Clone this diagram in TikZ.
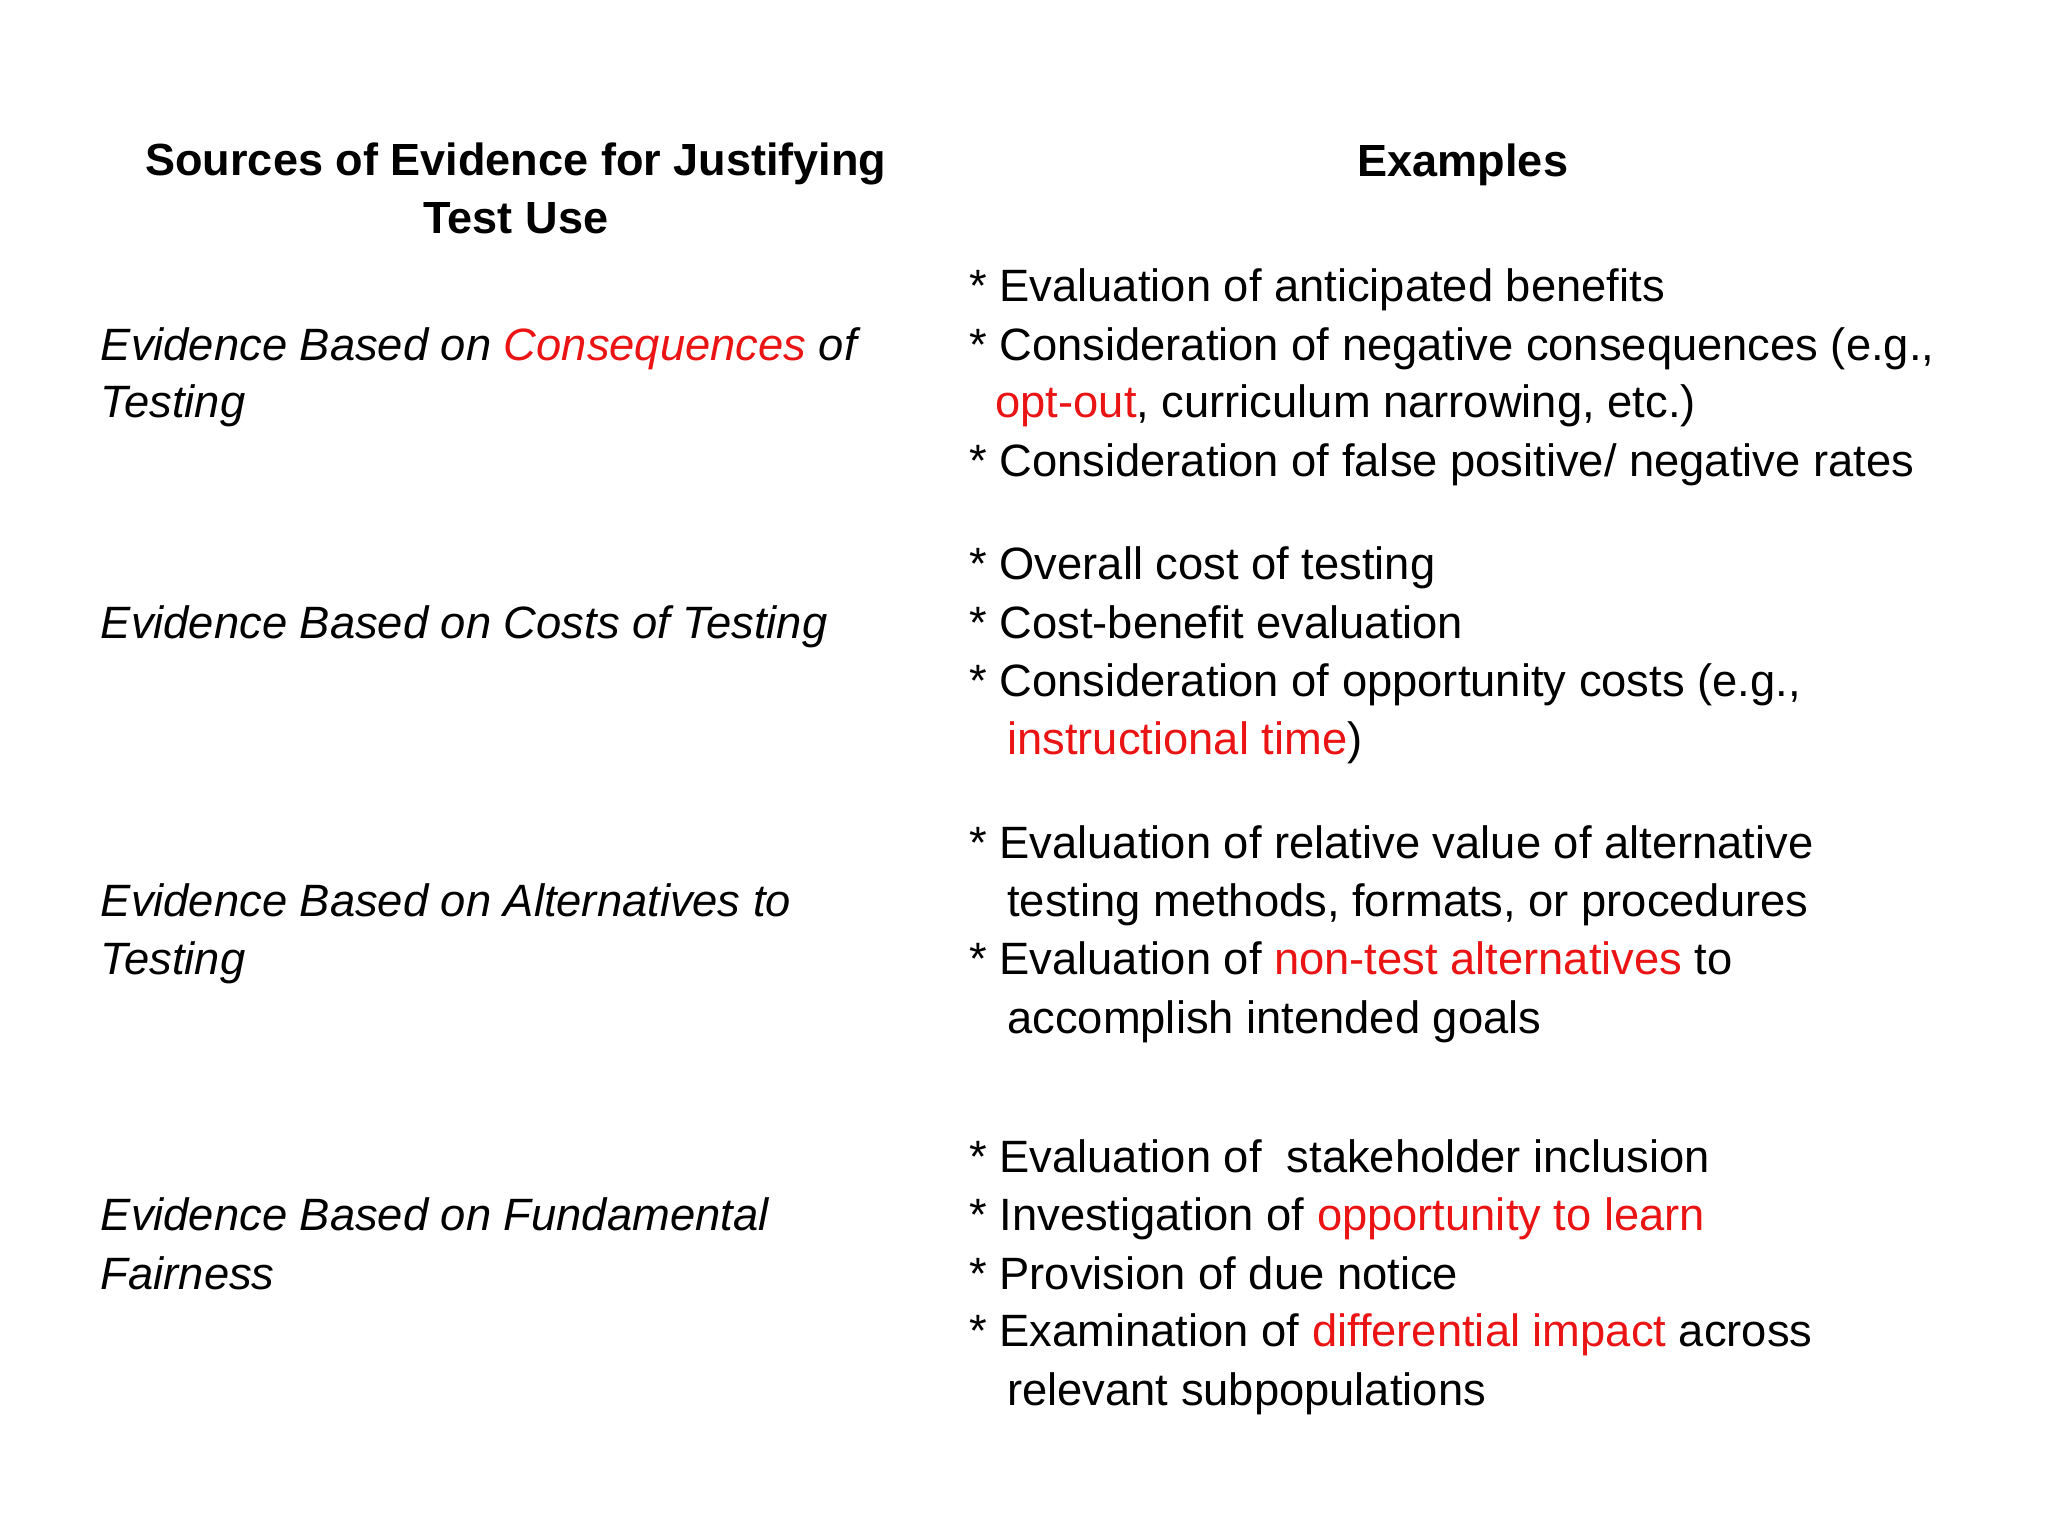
\documentclass[tikz,border=0pt]{standalone}
\usepackage{fontspec}
\setmainfont{Liberation Sans}
\definecolor{hl}{RGB}{235,20,20}
\begin{document}
\begin{tikzpicture}[x=1pt,y=-1pt,
  t/.style={anchor=base west,inner sep=0pt,font=\fontsize{34.7}{40}\selectfont},
  li/.style={t,font=\fontsize{34.7}{40}\selectfont\itshape},
  hd/.style={anchor=base,inner sep=0pt,align=center,font=\fontsize{34.5}{44.5}\selectfont\bfseries}]
\useasboundingbox (0,0) rectangle (1568,1176);
\node[hd] (h1) at (395,179) {Sources of Evidence for Justifying\\Test Use};
\node[hd] (h2) at (1120,135) {Examples};
% left
\node[li] (l1) at (77,276) {Evidence Based on \textcolor{hl}{Consequences} of};
\node[li] (l1b) at (77,320) {Testing};
\node[li] (l2) at (77,489) {Evidence Based on Costs of Testing};
\node[li] (l3) at (77,702) {Evidence Based on Alternatives to};
\node[li] (l3b) at (77,746) {Testing};
\node[li] (l4) at (77,942) {Evidence Based on Fundamental};
\node[li] (l4b) at (77,987) {Fairness};
% right
\node[t] (r1) at (742,231) {* Evaluation of anticipated benefits};
\node[t] (r2) at (742,276) {* Consideration of negative consequences (e.g.,};
\node[t] (r3) at (762,320) {\textcolor{hl}{opt-out}, curriculum narrowing, etc.)};
\node[t] (r4) at (742,365) {* Consideration of false positive/ negative rates};
\node[t] (r5) at (742,444) {* Overall cost of testing};
\node[t] (r6) at (742,489) {* Cost-benefit evaluation};
\node[t] (r7) at (742,533) {* Consideration of opportunity costs (e.g.,};
\node[t] (r8) at (771,578) {\textcolor{hl}{instructional time})};
\node[t] (r9) at (742,657) {* Evaluation of relative value of alternative};
\node[t] (r10) at (771,702) {testing methods, formats, or procedures};
\node[t] (r11) at (742,746) {* Evaluation of \textcolor{hl}{non-test alternatives} to};
\node[t] (r12) at (771,791) {accomplish intended goals};
\node[t] (r13) at (742,898) {* Evaluation of \ stakeholder inclusion};
\node[t] (r14) at (742,942) {* Investigation of \textcolor{hl}{opportunity to learn}};
\node[t] (r15) at (742,987) {* Provision of due notice};
\node[t] (r16) at (742,1031) {* Examination of \textcolor{hl}{differential impact} across};
\node[t] (r17) at (771,1076) {relevant subpopulations};
\end{tikzpicture}
\end{document}
